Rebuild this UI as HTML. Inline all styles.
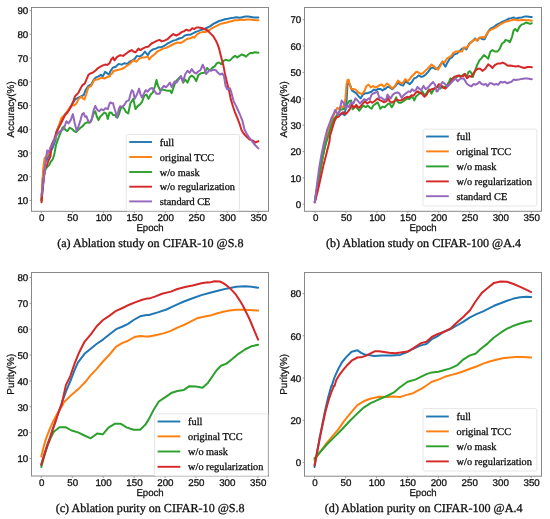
<!DOCTYPE html>
<html><head><meta charset="utf-8"><style>
html,body{margin:0;padding:0;background:#fff;}
text{text-rendering:geometricPrecision;}
svg{display:block;}
#w{width:550px;height:519px;will-change:transform;}
.tk{font-family:"Liberation Sans",sans-serif;font-size:9.75px;fill:#111;stroke:#111;stroke-width:0.3px;}
.al{font-family:"Liberation Sans",sans-serif;font-size:9.6px;fill:#111;stroke:#111;stroke-width:0.25px;}
.yl{font-family:"Liberation Sans",sans-serif;font-size:9.95px;fill:#111;stroke:#111;stroke-width:0.25px;}
.lg{font-family:"Liberation Serif",serif;font-size:10.3px;fill:#111;stroke:#111;stroke-width:0.3px;}
.cap{font-family:"Liberation Serif",serif;font-size:12.1px;fill:#111;stroke:#111;stroke-width:0.3px;}
</style></head><body><div id="w">
<svg width="550" height="519" viewBox="0 0 550 519">
<rect width="550" height="519" fill="#fff"/>
<clipPath id="ca"><rect x="31.5" y="7.5" width="237.0" height="203.8"/></clipPath>
<g clip-path="url(#ca)">
<polyline points="41.5,200.0 42.5,182.5 43.6,169.5 44.7,162.2 46.2,160.7 48.4,156.4 50.5,152.0 52.7,147.6 54.2,143.3 55.6,139.6 56.5,131.5 59.3,125.0 62.0,119.0 64.7,114.6 67.5,111.4 71.8,104.8 75.1,99.4 78.4,97.7 81.6,96.1 83.8,95.0 85.5,90.2 88.4,85.8 91.3,84.4 93.5,80.1 95.6,77.7 98.5,76.3 100.7,74.8 102.9,76.3 105.1,71.9 107.3,73.4 109.5,74.8 110.0,71.9 110.9,70.5 112.9,67.5 113.1,67.5 115.8,66.8 118.7,63.9 121.6,64.6 124.5,63.2 127.5,63.9 129.6,61.7 132.5,60.3 134.7,58.8 136.9,55.9 139.8,56.6 142.7,54.5 144.9,51.5 147.8,55.2 150.0,51.5 152.9,49.4 155.8,48.6 158.7,47.2 161.6,47.2 164.5,45.7 167.5,43.5 170.4,42.1 173.3,40.6 176.2,39.9 179.1,38.5 182.0,37.7 184.9,35.5 187.8,34.8 190.0,34.8 192.9,33.4 195.8,31.9 198.7,30.9 201.6,29.7 204.5,29.0 207.5,27.5 210.4,26.1 213.3,23.9 216.2,22.5 219.1,21.0 222.0,20.3 224.9,19.3 227.8,18.8 230.7,18.1 233.6,17.8 236.5,17.2 239.5,17.8 242.4,17.2 245.3,16.6 248.2,16.6 251.1,16.9 254.0,17.4 258.4,17.4" fill="none" stroke="#1f77b4" stroke-width="2.0" stroke-linejoin="round" stroke-linecap="round"/>
<polyline points="41.5,200.0 42.5,179.6 43.6,165.1 44.7,157.8 46.2,157.1 47.6,154.9 49.1,152.0 50.5,147.6 53.5,141.8 55.6,137.5 56.5,132.1 58.2,127.7 59.8,122.8 61.5,117.9 62.9,116.6 64.4,115.5 66.4,112.7 69.1,108.6 71.8,105.4 74.0,105.4 76.2,103.7 78.4,99.4 81.1,96.6 82.7,98.3 84.4,99.4 86.0,95.0 88.4,87.3 91.3,85.8 94.2,80.1 98.5,79.2 101.5,77.7 104.4,78.5 107.3,77.0 110.0,76.3 110.2,74.8 112.9,72.6 113.1,71.2 115.3,70.5 115.8,70.5 118.7,69.7 121.6,69.0 124.5,67.5 127.5,65.4 130.4,63.2 133.3,60.3 136.2,61.7 139.1,58.8 142.0,57.4 144.9,57.4 147.8,56.6 149.3,59.5 151.5,56.6 154.4,54.5 157.3,51.5 160.2,50.1 163.1,48.6 166.0,47.9 168.9,46.5 171.8,45.0 174.7,43.5 177.6,42.5 180.5,43.1 183.5,41.4 186.4,39.2 188.5,38.5 190.0,38.5 192.9,37.0 194.4,37.7 197.3,34.1 200.2,32.6 203.1,31.9 206.0,31.9 208.9,30.5 211.8,28.3 214.7,26.8 217.6,25.4 220.5,23.9 223.5,23.2 226.4,22.5 229.3,21.7 232.2,21.0 235.1,20.3 238.0,20.3 240.9,19.5 243.8,20.0 246.7,19.5 249.6,19.5 254.0,20.0 258.4,20.3" fill="none" stroke="#ff7f0e" stroke-width="2.0" stroke-linejoin="round" stroke-linecap="round"/>
<polyline points="41.5,200.7 43.0,184.0 44.7,170.9 46.9,167.3 49.1,165.1 50.5,162.2 52.7,159.3 54.2,154.9 56.0,145.0 58.2,138.6 60.4,133.2 62.5,127.7 63.6,126.6 65.3,129.9 67.5,131.0 69.6,127.7 71.8,128.8 74.0,131.0 76.2,132.1 78.4,129.9 80.5,127.7 82.7,126.1 84.9,123.4 87.1,122.3 89.3,122.8 91.5,120.1 93.6,113.5 95.3,111.4 96.9,116.8 98.5,120.1 100.2,116.8 102.4,114.6 104.5,112.5 106.2,113.5 107.8,119.0 109.5,112.5 111.6,112.7 112.9,114.9 115.3,114.9 115.8,116.4 117.3,117.8 118.7,114.9 120.9,107.6 123.1,107.6 124.5,109.1 126.0,112.0 128.2,113.5 130.4,103.3 133.3,98.9 135.5,109.1 137.6,106.2 139.8,104.7 142.0,101.8 144.2,96.0 146.4,94.5 148.5,98.9 150.7,94.5 152.9,92.4 155.1,85.8 156.5,80.0 158.0,85.8 160.2,90.2 162.4,89.5 165.3,90.2 168.2,90.9 170.0,90.4 171.6,93.1 173.3,88.2 175.5,81.6 177.6,79.5 179.8,77.3 180.9,76.2 183.1,82.7 185.3,79.5 187.5,82.7 189.6,77.3 191.8,75.6 194.0,77.3 196.2,81.1 198.4,75.1 200.5,73.5 202.7,72.9 204.9,72.4 207.1,68.0 208.7,69.6 210.4,70.2 212.5,67.5 214.7,66.4 216.9,63.1 219.1,62.5 221.3,64.2 223.5,60.9 225.6,59.8 227.8,60.4 230.0,60.4 232.9,57.4 235.1,55.9 237.3,57.4 239.5,55.9 241.6,54.5 243.8,55.2 246.0,56.6 248.2,54.5 250.4,53.0 252.5,53.0 254.7,52.3 258.4,52.7" fill="none" stroke="#2ca02c" stroke-width="2.0" stroke-linejoin="round" stroke-linecap="round"/>
<polyline points="41.5,202.2 42.5,191.3 44.0,176.7 45.0,168.0 46.5,166.5 48.4,160.7 50.5,156.4 51.6,145.0 54.4,138.6 56.5,132.1 59.3,126.6 62.0,121.2 64.7,115.7 67.5,112.5 69.6,109.2 71.8,104.8 73.5,100.5 75.1,96.1 76.2,95.0 78.2,93.1 80.4,88.7 82.5,85.1 84.7,83.6 86.2,80.1 88.4,74.8 90.5,73.4 92.7,72.6 95.6,70.5 97.8,68.3 100.0,66.8 102.9,65.4 105.1,64.6 107.3,64.9 109.5,63.2 111.6,58.8 112.2,58.8 113.1,57.4 114.4,60.3 115.3,59.5 116.5,57.4 120.2,55.2 123.1,55.9 126.0,53.7 128.9,51.5 131.8,50.1 133.3,51.5 135.5,52.3 138.4,48.6 140.5,50.1 142.7,48.6 145.6,47.2 148.5,46.5 151.5,43.5 154.4,42.1 157.3,40.6 159.5,39.9 161.6,41.4 164.5,40.6 167.5,39.2 170.4,36.3 173.3,34.1 176.2,35.5 179.1,34.1 182.0,31.9 184.2,31.2 186.4,29.7 188.5,30.5 190.0,30.5 192.2,28.3 194.4,29.0 196.5,27.5 198.7,27.5 201.6,28.0 204.5,29.0 207.5,30.5 210.4,33.4 213.3,36.3 215.5,39.9 217.6,44.3 219.1,48.6 220.5,54.5 222.0,60.3 223.5,66.1 224.9,73.4 226.4,80.0 227.8,85.8 229.3,91.6 230.7,98.9 232.9,106.2 235.1,112.7 237.3,117.8 239.5,123.6 241.6,130.2 243.8,133.8 246.7,136.7 249.6,139.6 252.5,140.4 255.5,142.5 256.9,141.8 258.4,141.1" fill="none" stroke="#d62728" stroke-width="2.0" stroke-linejoin="round" stroke-linecap="round"/>
<polyline points="41.5,195.6 42.5,188.4 43.6,179.6 44.7,170.9 46.2,156.4 47.3,150.5 49.1,152.0 50.5,147.6 52.2,145.0 54.4,139.7 56.5,135.4 58.7,132.1 60.9,131.0 62.5,129.9 64.2,127.7 66.4,121.2 68.5,123.4 70.7,120.1 72.9,114.1 74.5,122.3 76.7,131.0 78.4,126.6 80.5,120.1 82.2,114.1 83.8,113.0 84.9,116.8 86.5,116.3 88.2,121.2 90.4,122.3 92.0,118.5 93.6,110.3 95.3,105.9 96.9,109.2 99.1,111.4 101.3,109.2 103.5,110.3 105.6,108.1 107.8,109.2 109.5,103.7 110.2,102.5 112.2,103.3 113.1,103.3 113.6,105.5 115.1,110.5 117.3,117.1 118.7,109.1 120.2,106.2 122.4,106.9 124.5,104.7 126.7,101.1 128.9,100.4 130.4,94.5 131.8,90.2 133.3,91.6 134.7,98.9 136.9,94.5 139.1,88.7 140.5,94.5 142.0,97.5 144.2,93.1 145.6,90.2 147.8,91.6 150.0,88.7 152.2,88.0 154.4,90.9 156.5,93.8 159.5,93.8 161.6,88.7 163.8,85.8 166.0,87.3 167.5,85.8 169.6,82.9 170.0,82.7 171.6,87.1 174.4,81.6 176.5,82.7 178.7,79.5 180.9,76.2 183.1,81.6 185.3,74.0 187.5,70.7 189.6,72.9 191.8,69.1 194.0,72.4 196.2,73.5 198.4,71.3 200.5,70.2 202.7,64.7 204.4,68.5 206.0,74.0 207.6,72.4 209.3,70.2 211.5,70.7 213.6,69.6 215.8,70.2 218.0,72.9 220.2,74.5 222.4,73.5 224.0,76.2 225.6,86.0 227.3,89.3 230.0,88.2 231.5,93.1 233.6,101.1 236.5,106.9 239.5,113.5 242.4,120.7 244.5,129.5 246.7,133.8 249.6,138.2 252.5,141.8 255.5,145.5 258.4,148.4" fill="none" stroke="#9467bd" stroke-width="2.0" stroke-linejoin="round" stroke-linecap="round"/>
</g>
<rect x="31.5" y="7.5" width="237.0" height="203.8" fill="none" stroke="#888888" stroke-width="1"/>
<line x1="41.4" y1="211.3" x2="41.4" y2="213.3" stroke="#888888" stroke-width="0.8"/>
<text transform="translate(41.80,221.00) scale(1,1.0)" class="tk" text-anchor="middle">0</text>
<line x1="72.39" y1="211.3" x2="72.39" y2="213.3" stroke="#888888" stroke-width="0.8"/>
<text transform="translate(72.79,221.00) scale(1,1.0)" class="tk" text-anchor="middle">50</text>
<line x1="103.37" y1="211.3" x2="103.37" y2="213.3" stroke="#888888" stroke-width="0.8"/>
<text transform="translate(103.77,221.00) scale(1,1.0)" class="tk" text-anchor="middle">100</text>
<line x1="134.35" y1="211.3" x2="134.35" y2="213.3" stroke="#888888" stroke-width="0.8"/>
<text transform="translate(134.75,221.00) scale(1,1.0)" class="tk" text-anchor="middle">150</text>
<line x1="165.34" y1="211.3" x2="165.34" y2="213.3" stroke="#888888" stroke-width="0.8"/>
<text transform="translate(165.74,221.00) scale(1,1.0)" class="tk" text-anchor="middle">200</text>
<line x1="196.33" y1="211.3" x2="196.33" y2="213.3" stroke="#888888" stroke-width="0.8"/>
<text transform="translate(196.73,221.00) scale(1,1.0)" class="tk" text-anchor="middle">250</text>
<line x1="227.31" y1="211.3" x2="227.31" y2="213.3" stroke="#888888" stroke-width="0.8"/>
<text transform="translate(227.71,221.00) scale(1,1.0)" class="tk" text-anchor="middle">300</text>
<line x1="258.3" y1="211.3" x2="258.3" y2="213.3" stroke="#888888" stroke-width="0.8"/>
<text transform="translate(258.70,221.00) scale(1,1.0)" class="tk" text-anchor="middle">350</text>
<line x1="29.5" y1="200.5" x2="31.5" y2="200.5" stroke="#888888" stroke-width="0.8"/>
<text transform="translate(28.30,204.30) scale(1,1.0)" class="tk" text-anchor="end">10</text>
<line x1="29.5" y1="176.76" x2="31.5" y2="176.76" stroke="#888888" stroke-width="0.8"/>
<text transform="translate(28.30,180.56) scale(1,1.0)" class="tk" text-anchor="end">20</text>
<line x1="29.5" y1="153.02" x2="31.5" y2="153.02" stroke="#888888" stroke-width="0.8"/>
<text transform="translate(28.30,156.82) scale(1,1.0)" class="tk" text-anchor="end">30</text>
<line x1="29.5" y1="129.28" x2="31.5" y2="129.28" stroke="#888888" stroke-width="0.8"/>
<text transform="translate(28.30,133.08) scale(1,1.0)" class="tk" text-anchor="end">40</text>
<line x1="29.5" y1="105.54" x2="31.5" y2="105.54" stroke="#888888" stroke-width="0.8"/>
<text transform="translate(28.30,109.34) scale(1,1.0)" class="tk" text-anchor="end">50</text>
<line x1="29.5" y1="81.8" x2="31.5" y2="81.8" stroke="#888888" stroke-width="0.8"/>
<text transform="translate(28.30,85.60) scale(1,1.0)" class="tk" text-anchor="end">60</text>
<line x1="29.5" y1="58.06" x2="31.5" y2="58.06" stroke="#888888" stroke-width="0.8"/>
<text transform="translate(28.30,61.86) scale(1,1.0)" class="tk" text-anchor="end">70</text>
<line x1="29.5" y1="34.32" x2="31.5" y2="34.32" stroke="#888888" stroke-width="0.8"/>
<text transform="translate(28.30,38.12) scale(1,1.0)" class="tk" text-anchor="end">80</text>
<line x1="29.5" y1="10.58" x2="31.5" y2="10.58" stroke="#888888" stroke-width="0.8"/>
<text transform="translate(28.30,14.38) scale(1,1.0)" class="tk" text-anchor="end">90</text>
<text transform="translate(150.00,230.80) scale(1,1.03)" class="al" text-anchor="middle">Epoch</text>
<text transform="translate(14.20,109.40) rotate(-90)" class="yl" text-anchor="middle">Accuracy(%)</text>
<rect x="126.2" y="134.5" width="113.3" height="76.5" rx="1.5" fill="#fff" fill-opacity="0.8" stroke="#e0e0e0" stroke-width="0.8"/>
<line x1="129.3" y1="142.0" x2="152.0" y2="142.0" stroke="#1f77b4" stroke-width="1.9"/>
<text x="159.8" y="145.6" class="lg">full</text>
<line x1="129.3" y1="157.0" x2="152.0" y2="157.0" stroke="#ff7f0e" stroke-width="1.9"/>
<text x="159.8" y="160.6" class="lg">original TCC</text>
<line x1="129.3" y1="172.0" x2="152.0" y2="172.0" stroke="#2ca02c" stroke-width="1.9"/>
<text x="159.8" y="175.6" class="lg">w/o mask</text>
<line x1="129.3" y1="186.7" x2="152.0" y2="186.7" stroke="#d62728" stroke-width="1.9"/>
<text x="159.8" y="190.29999999999998" class="lg">w/o regularization</text>
<line x1="129.3" y1="201.4" x2="152.0" y2="201.4" stroke="#9467bd" stroke-width="1.9"/>
<text x="159.8" y="205.0" class="lg">standard CE</text>
<clipPath id="cb"><rect x="304.5" y="7.5" width="237.0" height="203.8"/></clipPath>
<g clip-path="url(#cb)">
<polyline points="314.8,202.2 317.7,184.0 320.6,168.0 322.8,156.4 325.0,146.2 327.9,134.0 330.8,126.7 333.7,119.5 336.6,116.5 339.5,115.1 342.5,113.6 344.6,115.1 346.5,102.0 347.5,84.5 349.0,83.1 350.5,86.0 351.9,90.4 354.1,91.8 356.3,93.3 358.5,96.2 360.6,98.4 362.8,94.7 365.0,93.3 367.2,93.3 369.4,92.5 371.5,91.8 373.7,89.6 375.9,90.4 378.1,88.9 380.3,88.9 382.5,90.4 384.6,88.9 385.0,89.3 387.2,87.1 389.4,87.1 392.3,89.3 395.2,86.4 398.1,82.7 401.0,84.9 403.2,85.6 405.4,81.3 407.5,82.7 409.7,84.2 411.9,82.0 414.1,78.4 416.3,77.6 418.5,75.5 421.4,76.9 423.5,76.2 425.7,74.7 428.6,71.1 430.8,68.2 433.0,67.5 435.2,68.9 437.4,68.9 439.5,66.0 442.5,61.6 443.9,64.5 445.4,66.7 447.5,62.4 449.7,58.7 451.9,57.3 454.1,54.4 457.0,53.6 462.0,48.6 464.2,47.9 466.4,49.4 469.3,43.5 472.2,41.4 475.1,38.5 477.3,40.6 479.5,37.7 482.4,39.2 484.5,39.2 486.7,34.8 488.9,30.5 491.1,28.3 494.0,26.8 496.9,24.6 499.8,23.2 502.7,21.7 505.6,20.3 508.5,18.8 511.5,18.1 513.6,17.4 515.8,18.8 518.7,17.8 521.6,17.4 524.5,16.6 527.5,16.6 530.4,16.9 531.8,16.9" fill="none" stroke="#1f77b4" stroke-width="2.0" stroke-linejoin="round" stroke-linecap="round"/>
<polyline points="314.8,202.2 317.7,184.0 320.6,168.0 322.8,156.4 325.0,146.2 327.2,134.0 329.4,126.7 331.5,120.9 333.7,115.1 335.9,110.7 337.4,107.8 339.5,109.3 341.0,106.4 343.2,107.8 345.4,99.1 346.5,84.5 347.5,80.2 348.6,79.5 349.7,84.5 351.2,88.9 353.4,88.9 355.5,89.6 357.7,91.8 359.9,93.3 362.1,94.0 364.3,91.1 366.5,86.0 368.6,84.5 370.8,87.5 373.0,86.0 375.2,87.5 377.4,86.7 379.5,85.3 381.7,84.5 383.9,86.7 385.0,85.6 387.2,83.5 389.4,85.6 392.3,88.5 395.2,85.6 398.1,80.5 400.3,82.7 402.5,83.5 405.4,79.1 407.5,81.3 409.7,79.1 411.9,76.2 414.1,74.0 416.3,71.8 418.5,72.5 420.6,74.0 422.8,73.3 425.0,71.1 427.2,68.9 429.4,66.7 431.5,64.5 433.7,66.0 435.9,68.2 438.1,69.6 440.3,66.0 442.5,61.6 444.6,62.4 446.8,58.7 449.0,57.3 451.2,55.8 453.4,52.9 455.5,51.5 462.0,51.5 464.2,47.2 466.4,47.9 469.3,44.3 472.2,41.4 475.1,39.2 477.3,40.6 479.5,37.7 482.4,37.0 484.5,37.7 486.7,34.1 488.9,31.2 491.1,29.7 494.0,28.3 496.9,26.8 499.8,24.6 502.7,23.2 505.6,21.7 508.5,21.0 511.5,20.3 514.4,19.5 517.3,20.3 520.2,20.3 523.1,19.8 526.0,20.3 528.9,20.3 531.8,20.7" fill="none" stroke="#ff7f0e" stroke-width="2.0" stroke-linejoin="round" stroke-linecap="round"/>
<polyline points="314.8,202.2 317.7,184.0 320.6,168.0 322.8,156.4 325.0,146.2 329.4,132.5 331.5,125.3 333.7,119.5 335.9,116.5 338.1,113.6 340.3,110.0 342.5,109.3 344.6,108.5 346.8,104.9 349.0,101.3 351.2,100.5 352.6,109.3 354.8,106.4 357.0,107.8 359.2,110.7 361.4,107.8 363.5,105.6 365.7,107.1 367.9,105.6 370.0,107.7 371.6,108.8 373.3,105.5 375.5,103.9 377.6,102.3 378.7,104.5 380.4,108.8 382.5,106.6 384.7,107.2 386.4,105.5 388.0,103.9 389.6,103.4 391.8,107.2 393.5,104.5 395.1,100.1 396.2,97.4 397.3,101.2 398.9,102.8 401.1,102.8 402.7,101.7 404.9,100.1 407.1,98.5 409.3,99.0 411.5,96.8 413.6,98.5 414.2,100.6 415.8,96.8 418.0,94.6 420.2,93.0 422.4,91.4 424.5,95.2 426.7,93.0 428.9,89.2 429.4,90.0 431.5,93.6 433.7,89.3 435.9,87.1 438.1,87.1 440.3,88.5 442.5,86.4 444.6,87.1 446.8,85.6 449.0,82.0 450.5,78.4 452.6,80.5 454.8,77.6 457.0,76.9 459.2,75.5 461.4,76.2 464.2,74.1 466.4,77.0 468.5,71.9 470.0,71.2 471.5,73.4 472.9,77.0 475.1,70.5 477.3,64.6 479.5,60.3 481.6,58.1 483.8,55.2 486.0,56.6 488.2,58.8 490.4,51.5 492.5,50.1 494.7,51.5 497.6,51.5 499.8,48.6 502.0,43.5 504.2,42.1 505.6,39.9 507.8,40.6 510.0,42.1 512.2,36.3 513.6,30.5 515.1,29.0 517.3,31.2 519.5,26.8 521.6,24.6 523.8,23.9 526.0,22.5 528.2,23.2 530.4,23.9 531.8,23.2" fill="none" stroke="#2ca02c" stroke-width="2.0" stroke-linejoin="round" stroke-linecap="round"/>
<polyline points="314.8,202.2 317.7,191.3 320.6,178.2 323.5,165.1 326.5,153.5 329.4,141.8 330.1,135.5 332.3,128.2 334.5,120.9 336.6,117.3 338.8,116.5 341.0,113.6 343.2,112.2 345.4,114.4 347.5,112.2 349.7,109.3 351.9,104.9 354.1,107.8 356.3,104.9 358.5,107.8 360.6,106.4 362.8,103.5 365.0,101.3 367.2,103.5 369.4,102.0 370.0,101.2 372.2,102.8 374.4,101.2 377.6,98.5 379.8,100.1 382.0,101.2 384.2,102.3 386.4,101.2 388.0,97.9 389.6,101.2 391.8,102.8 394.0,101.2 396.2,99.5 398.4,100.1 400.5,100.6 402.7,99.5 404.9,97.9 407.1,96.8 409.3,97.4 411.5,95.2 413.6,95.7 415.8,92.5 418.0,91.4 420.2,93.0 422.4,94.1 424.5,96.8 426.7,94.6 428.9,90.3 429.4,90.7 431.5,89.3 434.5,88.5 436.6,87.8 438.8,84.2 441.0,84.9 443.2,87.8 445.4,88.5 447.5,86.4 449.7,84.2 451.9,79.1 454.1,76.9 456.3,76.2 458.5,75.5 460.6,76.9 462.8,75.5 463.5,76.0 464.9,73.8 467.1,78.2 469.3,76.0 471.5,76.7 473.6,73.1 475.8,70.2 478.0,68.7 480.2,68.7 482.4,70.9 485.3,68.7 488.2,64.4 490.4,65.8 492.5,68.0 494.7,65.1 497.6,63.6 500.5,63.6 502.7,62.6 504.9,63.6 507.8,65.8 510.0,65.5 512.9,66.1 515.8,66.5 518.7,66.1 521.6,67.3 524.5,68.0 527.5,67.0 530.4,67.0 531.8,67.3" fill="none" stroke="#d62728" stroke-width="2.0" stroke-linejoin="round" stroke-linecap="round"/>
<polyline points="314.8,202.2 317.0,184.0 319.2,168.0 321.4,154.9 323.5,144.7 325.0,138.4 327.2,129.6 329.4,123.8 331.5,118.0 333.7,113.6 335.2,110.0 336.6,112.2 338.1,115.1 339.5,110.7 341.7,100.5 343.9,103.5 346.1,108.5 347.5,105.6 349.0,107.1 351.2,102.0 353.4,103.5 355.5,98.4 357.7,100.5 359.9,103.5 362.1,101.3 364.3,99.1 366.5,100.5 368.6,98.4 370.0,99.0 371.6,94.6 373.3,93.5 375.5,92.5 377.6,91.9 379.3,97.9 380.9,97.4 382.5,98.5 384.2,100.1 386.4,99.0 387.5,94.6 389.1,96.8 390.7,98.5 392.9,94.6 395.1,93.0 397.3,92.5 399.5,93.5 401.6,97.9 402.7,96.3 404.9,94.1 407.1,92.5 408.7,91.4 410.4,91.9 412.0,89.2 413.6,90.8 415.8,90.3 417.5,87.0 419.1,88.6 421.3,90.3 423.5,85.9 425.6,89.2 427.8,87.5 429.5,85.9 430.8,84.2 433.0,82.0 435.2,84.9 436.6,91.5 438.1,90.7 440.3,85.6 442.5,82.0 444.6,83.5 446.8,86.4 449.0,84.9 451.2,82.7 453.4,80.5 455.5,78.4 457.7,81.3 459.9,79.1 462.1,78.4 463.5,78.2 464.9,80.4 467.1,84.0 469.3,85.5 471.5,86.2 473.6,84.0 475.8,84.7 478.0,83.3 479.5,81.8 481.6,84.0 483.8,84.7 486.0,84.0 487.5,86.2 489.6,83.3 491.8,83.3 494.0,84.7 496.2,84.0 498.4,84.7 500.5,81.8 502.7,82.5 504.9,81.8 507.1,83.3 509.3,82.5 511.5,81.8 513.6,79.6 515.8,80.1 518.7,79.6 521.6,78.9 524.5,78.6 527.5,78.6 530.4,78.9 531.8,79.2" fill="none" stroke="#9467bd" stroke-width="2.0" stroke-linejoin="round" stroke-linecap="round"/>
</g>
<rect x="304.5" y="7.5" width="237.0" height="203.8" fill="none" stroke="#888888" stroke-width="1"/>
<line x1="315.2" y1="211.3" x2="315.2" y2="213.3" stroke="#888888" stroke-width="0.8"/>
<text transform="translate(315.60,221.00) scale(1,1.0)" class="tk" text-anchor="middle">0</text>
<line x1="346.07" y1="211.3" x2="346.07" y2="213.3" stroke="#888888" stroke-width="0.8"/>
<text transform="translate(346.47,221.00) scale(1,1.0)" class="tk" text-anchor="middle">50</text>
<line x1="376.94" y1="211.3" x2="376.94" y2="213.3" stroke="#888888" stroke-width="0.8"/>
<text transform="translate(377.34,221.00) scale(1,1.0)" class="tk" text-anchor="middle">100</text>
<line x1="407.81" y1="211.3" x2="407.81" y2="213.3" stroke="#888888" stroke-width="0.8"/>
<text transform="translate(408.21,221.00) scale(1,1.0)" class="tk" text-anchor="middle">150</text>
<line x1="438.68" y1="211.3" x2="438.68" y2="213.3" stroke="#888888" stroke-width="0.8"/>
<text transform="translate(439.08,221.00) scale(1,1.0)" class="tk" text-anchor="middle">200</text>
<line x1="469.55" y1="211.3" x2="469.55" y2="213.3" stroke="#888888" stroke-width="0.8"/>
<text transform="translate(469.95,221.00) scale(1,1.0)" class="tk" text-anchor="middle">250</text>
<line x1="500.42" y1="211.3" x2="500.42" y2="213.3" stroke="#888888" stroke-width="0.8"/>
<text transform="translate(500.82,221.00) scale(1,1.0)" class="tk" text-anchor="middle">300</text>
<line x1="531.29" y1="211.3" x2="531.29" y2="213.3" stroke="#888888" stroke-width="0.8"/>
<text transform="translate(531.69,221.00) scale(1,1.0)" class="tk" text-anchor="middle">350</text>
<line x1="302.5" y1="204.2" x2="304.5" y2="204.2" stroke="#888888" stroke-width="0.8"/>
<text transform="translate(301.30,208.00) scale(1,1.0)" class="tk" text-anchor="end">0</text>
<line x1="302.5" y1="177.84" x2="304.5" y2="177.84" stroke="#888888" stroke-width="0.8"/>
<text transform="translate(301.30,181.64) scale(1,1.0)" class="tk" text-anchor="end">10</text>
<line x1="302.5" y1="151.48" x2="304.5" y2="151.48" stroke="#888888" stroke-width="0.8"/>
<text transform="translate(301.30,155.28) scale(1,1.0)" class="tk" text-anchor="end">20</text>
<line x1="302.5" y1="125.12" x2="304.5" y2="125.12" stroke="#888888" stroke-width="0.8"/>
<text transform="translate(301.30,128.92) scale(1,1.0)" class="tk" text-anchor="end">30</text>
<line x1="302.5" y1="98.76" x2="304.5" y2="98.76" stroke="#888888" stroke-width="0.8"/>
<text transform="translate(301.30,102.56) scale(1,1.0)" class="tk" text-anchor="end">40</text>
<line x1="302.5" y1="72.4" x2="304.5" y2="72.4" stroke="#888888" stroke-width="0.8"/>
<text transform="translate(301.30,76.20) scale(1,1.0)" class="tk" text-anchor="end">50</text>
<line x1="302.5" y1="46.04" x2="304.5" y2="46.04" stroke="#888888" stroke-width="0.8"/>
<text transform="translate(301.30,49.84) scale(1,1.0)" class="tk" text-anchor="end">60</text>
<line x1="302.5" y1="19.68" x2="304.5" y2="19.68" stroke="#888888" stroke-width="0.8"/>
<text transform="translate(301.30,23.48) scale(1,1.0)" class="tk" text-anchor="end">70</text>
<text transform="translate(423.00,230.80) scale(1,1.03)" class="al" text-anchor="middle">Epoch</text>
<text transform="translate(287.20,109.40) rotate(-90)" class="yl" text-anchor="middle">Accuracy(%)</text>
<rect x="423.0" y="129.2" width="113.79999999999995" height="76.80000000000001" rx="1.5" fill="#fff" fill-opacity="0.8" stroke="#e0e0e0" stroke-width="0.8"/>
<line x1="426.1" y1="136.5" x2="448.8" y2="136.5" stroke="#1f77b4" stroke-width="1.9"/>
<text x="456.6" y="140.1" class="lg">full</text>
<line x1="426.1" y1="151.4" x2="448.8" y2="151.4" stroke="#ff7f0e" stroke-width="1.9"/>
<text x="456.6" y="155.0" class="lg">original TCC</text>
<line x1="426.1" y1="166.4" x2="448.8" y2="166.4" stroke="#2ca02c" stroke-width="1.9"/>
<text x="456.6" y="170.0" class="lg">w/o mask</text>
<line x1="426.1" y1="181.4" x2="448.8" y2="181.4" stroke="#d62728" stroke-width="1.9"/>
<text x="456.6" y="185.0" class="lg">w/o regularization</text>
<line x1="426.1" y1="196.2" x2="448.8" y2="196.2" stroke="#9467bd" stroke-width="1.9"/>
<text x="456.6" y="199.79999999999998" class="lg">standard CE</text>
<clipPath id="cc"><rect x="31.5" y="272.5" width="237.0" height="203.5"/></clipPath>
<g clip-path="url(#cc)">
<polyline points="41.3,464.6 43.6,456.5 46.8,446.4 50.0,437.5 52.5,429.8 55.1,422.2 57.6,414.5 60.2,407.5 65.9,391.6 71.4,378.5 74.6,370.2 77.9,362.6 84.5,353.8 91.0,348.4 96.5,344.0 103.0,339.6 109.6,334.2 116.1,329.2 122.6,326.5 128.1,323.9 133.6,320.0 140.1,316.3 146.6,315.0 149.0,315.0 157.7,312.4 166.5,309.5 171.9,306.9 177.4,304.3 183.9,301.5 192.6,298.2 201.4,295.1 210.1,292.7 218.8,290.5 227.6,288.4 236.3,286.8 245.0,286.2 251.6,286.8 258.1,287.7" fill="none" stroke="#1f77b4" stroke-width="2.0" stroke-linejoin="round" stroke-linecap="round"/>
<polyline points="41.3,456.5 43.6,447.0 46.2,438.1 49.4,429.8 52.5,422.8 56.4,415.2 60.2,408.8 62.7,405.0 63.7,402.5 71.4,394.9 79.0,388.4 85.5,381.8 89.9,376.1 96.5,369.1 103.0,361.5 109.6,354.5 116.1,346.6 122.6,342.9 128.1,340.7 134.6,337.0 140.1,335.9 145.6,336.6 149.0,336.4 157.7,334.8 164.3,333.1 170.8,330.9 177.4,327.6 183.9,325.0 190.5,321.7 197.0,318.3 203.5,316.7 210.1,315.6 216.6,313.5 223.2,311.7 229.7,310.4 236.3,309.7 242.8,309.7 249.4,310.0 258.1,310.6" fill="none" stroke="#ff7f0e" stroke-width="2.0" stroke-linejoin="round" stroke-linecap="round"/>
<polyline points="41.3,467.0 44.3,455.9 47.5,445.7 50.6,438.1 53.8,431.7 59.5,427.3 65.9,427.3 71.6,430.5 78.0,432.4 84.4,435.5 90.7,438.3 97.1,433.6 102.8,434.3 108.5,427.6 115.0,423.7 120.5,423.7 127.0,427.6 133.6,429.8 140.1,429.8 145.6,424.4 149.0,418.9 153.4,410.2 158.8,401.5 165.4,397.1 171.9,392.7 177.4,391.0 183.9,389.9 189.4,386.2 195.9,386.6 202.5,387.7 207.9,382.9 216.6,370.2 221.0,365.8 226.5,363.6 231.9,359.3 238.5,353.8 245.0,349.5 251.6,346.2 258.1,344.7" fill="none" stroke="#2ca02c" stroke-width="2.0" stroke-linejoin="round" stroke-linecap="round"/>
<polyline points="41.3,464.8 43.6,457.2 46.8,447.0 50.0,438.1 52.5,430.5 55.1,422.8 57.6,415.2 60.2,408.2 61.5,405.0 65.9,385.1 70.3,376.1 74.6,363.6 79.0,352.7 84.5,341.8 91.0,334.2 96.5,326.5 103.0,320.0 109.6,315.6 116.1,310.8 122.6,308.0 129.2,304.7 135.7,302.1 142.3,299.7 146.6,298.6 149.0,298.6 155.5,296.4 162.1,293.8 170.8,291.6 177.4,289.0 186.1,286.8 192.6,285.5 201.4,283.3 207.9,282.3 209.0,282.6 214.5,281.2 219.9,281.5 223.2,283.2 226.5,285.4 229.7,288.1 233.0,291.4 236.3,295.2 239.5,300.1 242.8,305.5 245.5,311.0 248.3,316.5 249.9,320.0 258.1,339.6" fill="none" stroke="#d62728" stroke-width="2.0" stroke-linejoin="round" stroke-linecap="round"/>
</g>
<rect x="31.5" y="272.5" width="237.0" height="203.5" fill="none" stroke="#888888" stroke-width="1"/>
<line x1="41.3" y1="476.0" x2="41.3" y2="478.0" stroke="#888888" stroke-width="0.8"/>
<text transform="translate(41.70,485.70) scale(1,1.0)" class="tk" text-anchor="middle">0</text>
<line x1="72.23" y1="476.0" x2="72.23" y2="478.0" stroke="#888888" stroke-width="0.8"/>
<text transform="translate(72.63,485.70) scale(1,1.0)" class="tk" text-anchor="middle">50</text>
<line x1="103.16" y1="476.0" x2="103.16" y2="478.0" stroke="#888888" stroke-width="0.8"/>
<text transform="translate(103.56,485.70) scale(1,1.0)" class="tk" text-anchor="middle">100</text>
<line x1="134.09" y1="476.0" x2="134.09" y2="478.0" stroke="#888888" stroke-width="0.8"/>
<text transform="translate(134.49,485.70) scale(1,1.0)" class="tk" text-anchor="middle">150</text>
<line x1="165.02" y1="476.0" x2="165.02" y2="478.0" stroke="#888888" stroke-width="0.8"/>
<text transform="translate(165.42,485.70) scale(1,1.0)" class="tk" text-anchor="middle">200</text>
<line x1="195.95" y1="476.0" x2="195.95" y2="478.0" stroke="#888888" stroke-width="0.8"/>
<text transform="translate(196.35,485.70) scale(1,1.0)" class="tk" text-anchor="middle">250</text>
<line x1="226.88" y1="476.0" x2="226.88" y2="478.0" stroke="#888888" stroke-width="0.8"/>
<text transform="translate(227.28,485.70) scale(1,1.0)" class="tk" text-anchor="middle">300</text>
<line x1="257.81" y1="476.0" x2="257.81" y2="478.0" stroke="#888888" stroke-width="0.8"/>
<text transform="translate(258.21,485.70) scale(1,1.0)" class="tk" text-anchor="middle">350</text>
<line x1="29.5" y1="458.5" x2="31.5" y2="458.5" stroke="#888888" stroke-width="0.8"/>
<text transform="translate(28.30,462.30) scale(1,1.0)" class="tk" text-anchor="end">10</text>
<line x1="29.5" y1="432.64" x2="31.5" y2="432.64" stroke="#888888" stroke-width="0.8"/>
<text transform="translate(28.30,436.44) scale(1,1.0)" class="tk" text-anchor="end">20</text>
<line x1="29.5" y1="406.78" x2="31.5" y2="406.78" stroke="#888888" stroke-width="0.8"/>
<text transform="translate(28.30,410.58) scale(1,1.0)" class="tk" text-anchor="end">30</text>
<line x1="29.5" y1="380.92" x2="31.5" y2="380.92" stroke="#888888" stroke-width="0.8"/>
<text transform="translate(28.30,384.72) scale(1,1.0)" class="tk" text-anchor="end">40</text>
<line x1="29.5" y1="355.06" x2="31.5" y2="355.06" stroke="#888888" stroke-width="0.8"/>
<text transform="translate(28.30,358.86) scale(1,1.0)" class="tk" text-anchor="end">50</text>
<line x1="29.5" y1="329.2" x2="31.5" y2="329.2" stroke="#888888" stroke-width="0.8"/>
<text transform="translate(28.30,333.00) scale(1,1.0)" class="tk" text-anchor="end">60</text>
<line x1="29.5" y1="303.34" x2="31.5" y2="303.34" stroke="#888888" stroke-width="0.8"/>
<text transform="translate(28.30,307.14) scale(1,1.0)" class="tk" text-anchor="end">70</text>
<line x1="29.5" y1="277.48" x2="31.5" y2="277.48" stroke="#888888" stroke-width="0.8"/>
<text transform="translate(28.30,281.28) scale(1,1.0)" class="tk" text-anchor="end">80</text>
<text transform="translate(150.00,495.50) scale(1,1.03)" class="al" text-anchor="middle">Epoch</text>
<text transform="translate(14.20,374.25) rotate(-90)" class="yl" text-anchor="middle">Purity(%)</text>
<rect x="154.5" y="413.8" width="113.5" height="62.19999999999999" rx="1.5" fill="#fff" fill-opacity="0.8" stroke="#e0e0e0" stroke-width="0.8"/>
<line x1="157.6" y1="421.5" x2="180.3" y2="421.5" stroke="#1f77b4" stroke-width="1.9"/>
<text x="188.1" y="425.1" class="lg">full</text>
<line x1="157.6" y1="436.4" x2="180.3" y2="436.4" stroke="#ff7f0e" stroke-width="1.9"/>
<text x="188.1" y="440.0" class="lg">original TCC</text>
<line x1="157.6" y1="451.5" x2="180.3" y2="451.5" stroke="#2ca02c" stroke-width="1.9"/>
<text x="188.1" y="455.1" class="lg">w/o mask</text>
<line x1="157.6" y1="466.8" x2="180.3" y2="466.8" stroke="#d62728" stroke-width="1.9"/>
<text x="188.1" y="470.40000000000003" class="lg">w/o regularization</text>
<clipPath id="cd"><rect x="304.5" y="272.5" width="237.0" height="203.7"/></clipPath>
<g clip-path="url(#cd)">
<polyline points="314.5,467.0 319.8,436.9 322.4,424.2 324.9,411.5 328.1,397.5 331.3,386.0 331.7,386.1 334.5,377.3 338.3,369.0 342.1,362.0 346.5,356.9 351.6,351.8 357.4,350.3 361.2,352.8 364.4,354.4 368.8,355.0 373.9,355.9 382.6,355.4 391.3,355.4 400.0,354.9 406.6,352.3 413.1,348.8 419.6,345.8 422.0,345.1 426.4,344.0 431.8,339.2 437.3,336.4 443.8,331.6 450.4,329.2 456.9,325.5 463.5,321.7 470.0,317.4 476.5,314.1 483.1,311.3 487.5,309.1 494.0,305.8 500.6,303.2 507.1,300.8 513.6,298.6 520.2,297.3 526.7,296.7 531.1,297.1" fill="none" stroke="#1f77b4" stroke-width="2.0" stroke-linejoin="round" stroke-linecap="round"/>
<polyline points="314.5,460.0 325.5,444.5 331.9,436.9 338.3,429.3 344.6,420.4 351.0,412.7 357.4,405.1 363.7,401.3 370.1,398.7 379.0,396.8 386.9,397.1 393.5,396.4 400.0,397.1 406.6,394.9 413.1,393.2 422.0,388.4 426.4,385.5 431.8,381.8 438.4,379.6 444.9,376.8 452.5,374.6 456.9,373.5 463.5,371.3 470.0,368.7 476.5,366.5 483.1,363.6 489.6,361.5 496.2,359.7 502.7,358.2 509.3,357.5 515.8,356.9 522.4,356.9 531.1,357.5" fill="none" stroke="#ff7f0e" stroke-width="2.0" stroke-linejoin="round" stroke-linecap="round"/>
<polyline points="314.5,458.5 326.8,444.5 334.5,436.9 342.1,429.3 349.7,421.0 357.4,413.4 363.7,407.6 370.7,403.2 379.0,399.4 386.9,396.0 393.5,392.7 400.0,387.3 407.6,381.8 415.3,379.6 426.4,374.1 431.8,372.4 438.4,371.7 443.8,370.2 450.4,368.4 456.9,365.4 463.5,359.3 470.0,355.4 475.5,353.8 480.9,348.8 487.5,343.6 494.0,337.5 500.6,332.7 507.1,328.7 513.6,325.7 520.2,323.5 526.7,321.7 531.1,321.1" fill="none" stroke="#2ca02c" stroke-width="2.0" stroke-linejoin="round" stroke-linecap="round"/>
<polyline points="314.5,465.5 319.8,438.2 322.4,425.5 325.5,411.5 328.7,400.0 331.3,392.4 333.8,386.1 334.5,386.0 336.4,379.8 339.5,374.7 343.4,369.6 347.2,365.2 351.6,360.7 357.4,357.5 362.5,356.9 366.3,355.6 370.1,353.7 375.2,351.2 379.0,351.2 389.1,352.7 395.6,353.2 402.2,352.3 407.6,351.6 413.1,348.4 419.6,344.0 422.0,342.9 426.4,341.8 431.8,337.0 437.3,334.2 443.8,332.0 450.4,328.7 456.9,322.6 463.5,316.7 470.0,310.2 475.5,301.5 482.0,292.7 488.6,287.3 494.0,282.9 500.6,281.4 507.1,281.8 513.6,284.0 520.2,286.8 526.7,289.9 531.1,292.1" fill="none" stroke="#d62728" stroke-width="2.0" stroke-linejoin="round" stroke-linecap="round"/>
</g>
<rect x="304.5" y="272.5" width="237.0" height="203.7" fill="none" stroke="#888888" stroke-width="1"/>
<line x1="314.6" y1="476.2" x2="314.6" y2="478.2" stroke="#888888" stroke-width="0.8"/>
<text transform="translate(315.00,485.90) scale(1,1.0)" class="tk" text-anchor="middle">0</text>
<line x1="345.55" y1="476.2" x2="345.55" y2="478.2" stroke="#888888" stroke-width="0.8"/>
<text transform="translate(345.95,485.90) scale(1,1.0)" class="tk" text-anchor="middle">50</text>
<line x1="376.5" y1="476.2" x2="376.5" y2="478.2" stroke="#888888" stroke-width="0.8"/>
<text transform="translate(376.90,485.90) scale(1,1.0)" class="tk" text-anchor="middle">100</text>
<line x1="407.45" y1="476.2" x2="407.45" y2="478.2" stroke="#888888" stroke-width="0.8"/>
<text transform="translate(407.85,485.90) scale(1,1.0)" class="tk" text-anchor="middle">150</text>
<line x1="438.4" y1="476.2" x2="438.4" y2="478.2" stroke="#888888" stroke-width="0.8"/>
<text transform="translate(438.80,485.90) scale(1,1.0)" class="tk" text-anchor="middle">200</text>
<line x1="469.35" y1="476.2" x2="469.35" y2="478.2" stroke="#888888" stroke-width="0.8"/>
<text transform="translate(469.75,485.90) scale(1,1.0)" class="tk" text-anchor="middle">250</text>
<line x1="500.3" y1="476.2" x2="500.3" y2="478.2" stroke="#888888" stroke-width="0.8"/>
<text transform="translate(500.70,485.90) scale(1,1.0)" class="tk" text-anchor="middle">300</text>
<line x1="531.25" y1="476.2" x2="531.25" y2="478.2" stroke="#888888" stroke-width="0.8"/>
<text transform="translate(531.65,485.90) scale(1,1.0)" class="tk" text-anchor="middle">350</text>
<line x1="302.5" y1="462.5" x2="304.5" y2="462.5" stroke="#888888" stroke-width="0.8"/>
<text transform="translate(301.30,466.30) scale(1,1.0)" class="tk" text-anchor="end">0</text>
<line x1="302.5" y1="420.25" x2="304.5" y2="420.25" stroke="#888888" stroke-width="0.8"/>
<text transform="translate(301.30,424.05) scale(1,1.0)" class="tk" text-anchor="end">20</text>
<line x1="302.5" y1="378.0" x2="304.5" y2="378.0" stroke="#888888" stroke-width="0.8"/>
<text transform="translate(301.30,381.80) scale(1,1.0)" class="tk" text-anchor="end">40</text>
<line x1="302.5" y1="335.75" x2="304.5" y2="335.75" stroke="#888888" stroke-width="0.8"/>
<text transform="translate(301.30,339.55) scale(1,1.0)" class="tk" text-anchor="end">60</text>
<line x1="302.5" y1="293.5" x2="304.5" y2="293.5" stroke="#888888" stroke-width="0.8"/>
<text transform="translate(301.30,297.30) scale(1,1.0)" class="tk" text-anchor="end">80</text>
<text transform="translate(423.00,495.70) scale(1,1.03)" class="al" text-anchor="middle">Epoch</text>
<text transform="translate(287.20,374.35) rotate(-90)" class="yl" text-anchor="middle">Purity(%)</text>
<rect x="423.0" y="408.6" width="113.79999999999995" height="62.39999999999998" rx="1.5" fill="#fff" fill-opacity="0.8" stroke="#e0e0e0" stroke-width="0.8"/>
<line x1="426.1" y1="416.5" x2="448.8" y2="416.5" stroke="#1f77b4" stroke-width="1.9"/>
<text x="456.6" y="420.1" class="lg">full</text>
<line x1="426.1" y1="431.4" x2="448.8" y2="431.4" stroke="#ff7f0e" stroke-width="1.9"/>
<text x="456.6" y="435.0" class="lg">original TCC</text>
<line x1="426.1" y1="446.3" x2="448.8" y2="446.3" stroke="#2ca02c" stroke-width="1.9"/>
<text x="456.6" y="449.90000000000003" class="lg">w/o mask</text>
<line x1="426.1" y1="461.4" x2="448.8" y2="461.4" stroke="#d62728" stroke-width="1.9"/>
<text x="456.6" y="465.0" class="lg">w/o regularization</text>
<text x="150.3" y="247.0" class="cap" text-anchor="middle">(a) Ablation study on CIFAR-10 @S.8</text>
<text x="423.5" y="247.0" class="cap" text-anchor="middle">(b) Ablation study on CIFAR-100 @A.4</text>
<text x="150.2" y="511.7" class="cap" text-anchor="middle">(c) Ablation purity on CIFAR-10 @S.8</text>
<text x="423.7" y="511.7" class="cap" text-anchor="middle">(d) Ablation purity on CIFAR-100 @A.4</text>
</svg></div>
</body></html>
